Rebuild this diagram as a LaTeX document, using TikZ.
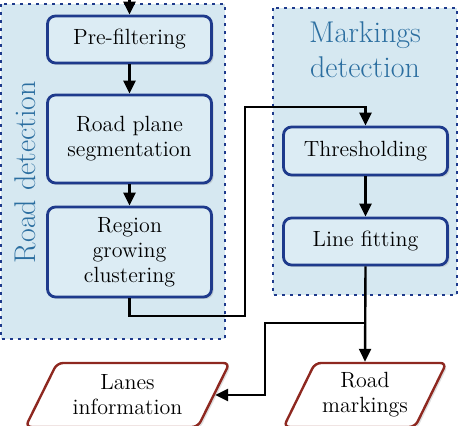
\documentclass[tikz,border=0pt]{standalone}
\usetikzlibrary{arrows.meta,shapes.geometric,shadows}
\definecolor{grpfill}{RGB}{214,232,241}
\definecolor{procfill}{RGB}{220,236,244}
\definecolor{boxline}{RGB}{30,58,140}
\definecolor{titleblue}{RGB}{43,110,160}
\definecolor{outline}{RGB}{142,40,32}
\begin{document}
\begin{tikzpicture}[x=0.5pt,y=-0.5pt,
    group/.style={fill=grpfill,draw=boxline,line width=1.3pt,dash pattern=on 1.3pt off 2.7pt},
    grouptitle/.style={text=titleblue,align=center,font=\fontsize{15}{17.5}\selectfont},
    proc/.style={draw=boxline,fill=procfill,line width=1.4pt,rounded corners=4pt,
      minimum width=82pt,align=center,inner sep=2pt,font=\fontsize{11}{12.5}\selectfont,
      drop shadow={opacity=0.25,shadow xshift=1pt,shadow yshift=-1pt}},
    result/.style={trapezium,trapezium left angle=60,trapezium right angle=120,
      trapezium stretches=true,draw=outline,fill=white,line width=1.2pt,rounded corners=3pt,
      minimum height=32pt,align=center,inner sep=1pt,font=\fontsize{11}{12.5}\selectfont,
      drop shadow={opacity=0.25,shadow xshift=1pt,shadow yshift=-1pt}},
    flow/.style={line width=1.2pt,-{Triangle[length=6.5pt,width=6pt]}}]
  \useasboundingbox (0,0) rectangle (459,426);
  \clip (0,0) rectangle (459,426);
  \draw[group] (1,4) rectangle (225,339);
  \draw[group] (273,8) rectangle (457,295);
  \node[grouptitle,rotate=90] (roadtitle) at (25,172) {Road detection};
  \node[grouptitle] (marktitle) at (365,50) {Markings\\detection};
  \node[proc,minimum height=23.5pt] (prefilter) at (129.5,39.5) {Pre-filtering};
  \node[proc,minimum height=44pt] (plane) at (129.5,139) {Road plane\\segmentation};
  \node[proc,minimum height=45pt] (region) at (129.5,252) {Region\\growing\\clustering};
  \node[proc,minimum height=24pt] (thresh) at (365.5,151) {Thresholding};
  \node[proc,minimum height=23.5pt] (linefit) at (365.5,241.5) {Line fitting};
  \node[result,minimum width=102.5pt] (lanes) at (127.5,395) {Lanes\\information};
  \node[result,minimum width=82pt] (marks) at (365,395) {Road\\markings};
  \coordinate (input) at (129.5,-2);
  \coordinate (bend1) at (245,316);
  \coordinate (bend2) at (245,107);
  \coordinate (split) at (365.5,323);
  \coordinate (turn) at (265,323);
  \draw[flow] (input) -- (prefilter);
  \draw[flow] (prefilter) -- (plane);
  \draw[flow] (plane) -- (region);
  \draw[flow] (region.south) |- (bend1) -- (bend2) -| (thresh.north);
  \draw[flow] (thresh) -- (linefit);
  \draw[flow] (linefit.south) -- (marks.north);
  \draw[flow] (split) -- (turn) |- (lanes.east);
\end{tikzpicture}
\end{document}
